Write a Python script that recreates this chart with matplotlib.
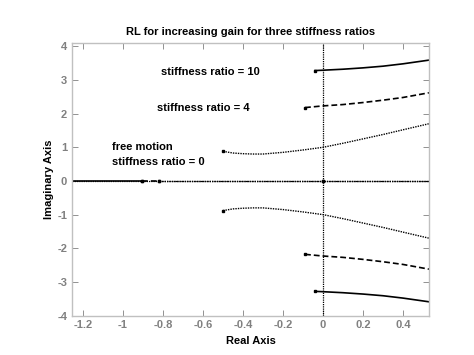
import numpy as np
import matplotlib
matplotlib.use("Agg")
import matplotlib.pyplot as plt

plt.rcParams['font.family'] = ['Liberation Sans', 'DejaVu Sans']
plt.rcParams['axes.unicode_minus'] = False

# upper complex branches (lower branches are the conjugates)
x_k10 = [-0.04, 0.0, 0.1, 0.2, 0.3, 0.4, 0.53]
y_k10 = [3.28, 3.29, 3.32, 3.36, 3.41, 3.48, 3.59]

x_k4 = [-0.09, 0.0, 0.1, 0.2, 0.3, 0.4, 0.53]
y_k4 = [2.18, 2.23, 2.27, 2.33, 2.40, 2.48, 2.62]

x_k0 = [-0.5, -0.45, -0.4, -0.35, -0.3, -0.2, -0.1, 0.0, 0.1, 0.2, 0.3, 0.4, 0.53]
y_k0 = [0.88, 0.83, 0.81, 0.80, 0.80, 0.85, 0.92, 1.00, 1.12, 1.25, 1.38, 1.52, 1.70]

# real axis branches
x_real_k10 = [-1.3, -0.907]
x_real_k4 = [-0.907, -0.82]
x_real_k0 = [-0.82, 0.53]

# open loop poles
pole_x = [-0.04, -0.09, -0.5, -0.907, -0.82, 0.0]
pole_y = [3.28, 2.18, 0.88, 0.0, 0.0, 0.0]

gray = '#808080'
dash = (0, (3.5, 1.8))
dot = (0, (1, 0.8))

fig = plt.figure(figsize=(4.74, 3.55), dpi=100)
ax = fig.add_axes([0.152, 0.111, 0.753, 0.768])

ax.axvline(0, color='black', linestyle=dot, linewidth=0.9)
ax.axhline(0, color='black', linestyle=dot, linewidth=0.9)

for xs, ys, ls, lw in [(x_k10, y_k10, '-', 1.2), (x_k4, y_k4, dash, 1.2), (x_k0, y_k0, dot, 1.0)]:
    xs = np.array(xs)
    ys = np.array(ys)
    ax.plot(xs, ys, color='black', linestyle=ls, linewidth=lw)
    ax.plot(xs, -ys, color='black', linestyle=ls, linewidth=lw)

ax.plot(x_real_k10, [0, 0], color='black', linestyle='-', linewidth=1.2)
ax.plot(x_real_k4, [0, 0], color='black', linestyle=dash, linewidth=1.2)
ax.plot(x_real_k0, [0, 0], color='black', linestyle=dot, linewidth=1.0)

px = np.array(pole_x)
py = np.array(pole_y)
ax.plot(np.concatenate([px, px]), np.concatenate([py, -py]), 's', color='black',
        markersize=1.8, linestyle='none')

txt = dict(fontsize=8, fontweight='bold', color='black')
ax.text(-0.81, 3.24, 'stiffness ratio = 10', va='center', **txt)
ax.text(-0.83, 2.16, 'stiffness ratio = 4', va='center', **txt)
ax.text(-1.055, 1.0, 'free motion', va='center', **txt)
ax.text(-1.055, 0.56, 'stiffness ratio = 0', va='center', **txt)

ax.set_xlim(-1.255, 0.53)
ax.set_ylim(-4.0, 4.1)
ax.set_xticks([-1.2, -1, -0.8, -0.6, -0.4, -0.2, 0, 0.2, 0.4])
ax.set_xticklabels(['-1.2', '-1', '-0.8', '-0.6', '-0.4', '-0.2', '0', '0.2', '0.4'])
ax.set_yticks([-4, -3, -2, -1, 0, 1, 2, 3, 4])

ax.tick_params(direction='in', top=True, right=True, length=4, width=0.6,
               color=gray, labelcolor=gray, labelsize=8)
for lab in ax.get_xticklabels() + ax.get_yticklabels():
    lab.set_fontweight('bold')
for sp in ax.spines.values():
    sp.set_color('#c0c0c0')
    sp.set_linewidth(1.0)

ax.set_xlabel('Real Axis', fontsize=8, fontweight='bold', labelpad=4)
ax.set_ylabel('Imaginary Axis', fontsize=8, fontweight='bold', labelpad=2)
ax.set_title('RL for increasing gain for three stiffness ratios', fontsize=8,
             fontweight='bold', pad=6)

fig.savefig('out.png', dpi=100)
